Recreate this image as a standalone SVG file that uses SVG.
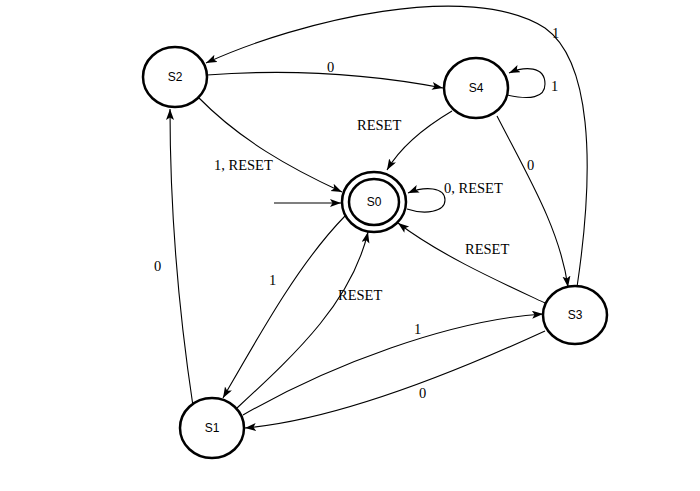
<svg xmlns="http://www.w3.org/2000/svg" width="700" height="491" viewBox="0 0 700 491">
<defs>
<marker id="arr" markerWidth="12" markerHeight="10" refX="11" refY="4" orient="auto" markerUnits="userSpaceOnUse">
<path d="M0,0 L11,4 L0,8 L2.5,4 z" fill="#000"/>
</marker>
<style>
.node{fill:#fff;stroke:#000;stroke-width:2.5}
.edge{fill:none;stroke:#000;stroke-width:1.1;marker-end:url(#arr)}
.nl{font-family:"Liberation Sans",Arial,sans-serif;font-size:12px;text-anchor:middle;fill:#000}
.el{font-family:"Liberation Serif","Times New Roman",serif;font-size:14.5px;fill:#000}
</style>
</defs>
<rect width="700" height="491" fill="#fff"/>
<g id="connectors">
<path class="edge" d="M577,287 C596,160 590,60 545,28 C470,-20 300,20 206,63"/>
<path class="edge" d="M207,75 C300,68 380,76 443,88"/>
<path class="edge" d="M507,95 C530,100 545,98 545,84 C545,66 525,66 509,73"/>
<path class="edge" d="M452,111 C420,130 400,148 387,170"/>
<path class="edge" d="M198,97 C240,140 290,168 342,192"/>
<path class="edge" d="M274,203 L341,203"/>
<path class="edge" d="M407,209 C425,215 445,212 445,200 C445,187 425,186 408,193"/>
<path class="edge" d="M345,216 C300,262 262,330 223,398"/>
<path class="edge" d="M237,408 C300,350 352,300 368,232"/>
<path class="edge" d="M545,303 C500,282 440,255 398,223"/>
<path class="edge" d="M243,415 C330,365 450,320 543,314"/>
<path class="edge" d="M545,331 C460,370 340,420 245,428"/>
<path class="edge" d="M193,406 C180,320 170,220 170,109"/>
<path class="edge" d="M497,116 C530,180 560,230 568,287"/>
</g>
<g id="S2"><ellipse class="node" cx="175" cy="77" rx="32" ry="30"/><text class="nl" x="175" y="81">S2</text></g>
<g id="S4"><ellipse class="node" cx="476" cy="88" rx="32" ry="30"/><text class="nl" x="476" y="92">S4</text></g>
<g id="S0"><ellipse class="node" cx="374" cy="202" rx="32" ry="30"/><ellipse class="node" cx="374" cy="202" rx="25" ry="23"/><text class="nl" x="374" y="206">S0</text></g>
<g id="S1"><ellipse class="node" cx="212" cy="428" rx="32" ry="30"/><text class="nl" x="212" y="432">S1</text></g>
<g id="S3"><ellipse class="node" cx="575" cy="315" rx="32" ry="29"/><text class="nl" x="575" y="319">S3</text></g>
<g id="labels">
<text class="el" x="552" y="38">1</text>
<text class="el" x="327" y="72">0</text>
<text class="el" x="551" y="91">1</text>
<text class="el" x="357" y="130">RESET</text>
<text class="el" x="214" y="170">1, RESET</text>
<text class="el" x="444" y="193">0, RESET</text>
<text class="el" x="465" y="254">RESET</text>
<text class="el" x="527" y="170">0</text>
<text class="el" x="154" y="271">0</text>
<text class="el" x="269" y="285">1</text>
<text class="el" x="338" y="300">RESET</text>
<text class="el" x="414" y="334">1</text>
<text class="el" x="419" y="398">0</text>
</g>
</svg>
